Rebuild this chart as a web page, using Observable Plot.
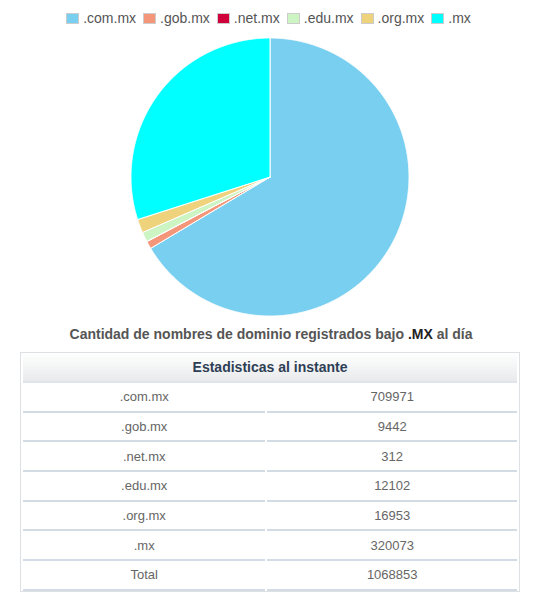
<!DOCTYPE html>
<html>
<head>
<meta charset="utf-8">
<script src="https://cdn.jsdelivr.net/npm/d3@7"></script>
<script src="https://cdn.jsdelivr.net/npm/@observablehq/plot@0.6"></script>
<style>
  body { margin: 0; background: #fff; font-family: "Liberation Sans", Arial, sans-serif; }
  #legend { height: 36px; display: flex; justify-content: center; align-items: center; font-size: 14px; color: #555; padding-left: 2px; }
  #legend .item { display: flex; align-items: center; margin-right: 7px; }
  #legend .sw { width: 11px; height: 9px; border: 1px solid #ccc; margin-right: 4px; }
  #chart { height: 282px; }
  #title { height: 34px; line-height: 32px; text-align: center; font-size: 14px; font-weight: bold; color: #555; }
  #title b { color: #222; }
  table { margin-left: 20px; width: 500px; border: 1px solid #dde1e4; border-spacing: 2px 0; font-size: 13px; color: #666; }
  th { height: 26px; font-size: 14px; font-weight: bold; color: #2e3f55; background: linear-gradient(#ffffff, #e9eaec); border-bottom: 2px solid #dfe5ea; }
  td { height: 25.7px; padding: 1px; text-align: center; border-bottom: 2px solid #d3dce5; }
</style>
</head>
<body>
<div id="legend"></div>
<div id="chart"></div>
<div id="title">Cantidad de nombres de dominio registrados bajo <b>.MX</b> al día</div>
<table id="tabla"></table>
<script>
// datos del grafico
let dominios = [".com.mx", ".gob.mx", ".net.mx", ".edu.mx", ".org.mx", ".mx"]
let registros = [709971, 9442, 312, 12102, 16953, 320073]
let colores = ["#78cff0", "#f3967a", "#d0003a", "#ccf5c3", "#efd27c", "#00ffff"]
let tituloTabla = "Estadisticas al instante"
let etiquetaTotal = "Total"
let total = 1068853

// leyenda
let legend = d3.select('#legend')
dominios.forEach((d, i) => {
  let item = legend.append('div').attr('class', 'item')
  item.append('div').attr('class', 'sw').style('background', colores[i])
  item.append('span').text(d)
})

// rebanadas del pay como poligonos en coordenadas [-1, 1]
let arcos = d3.pie().sort(null).value(d => d.valor)(
  dominios.map((d, i) => ({dominio: d, valor: registros[i]}))
)
let puntos = []
arcos.forEach(a => {
  let n = Math.max(2, Math.ceil((a.endAngle - a.startAngle) / 0.005))
  puntos.push({dominio: a.data.dominio, x: 0, y: 0})
  for (let k = 0; k <= n; k++) {
    let t = a.startAngle + (a.endAngle - a.startAngle) * k / n
    puntos.push({dominio: a.data.dominio, x: Math.sin(t), y: Math.cos(t)})
  }
  puntos.push({dominio: a.data.dominio, x: 0, y: 0})
})

let chart = Plot.plot({
  width: 542,
  height: 282,
  marginLeft: 130.5,
  marginRight: 133.5,
  marginTop: 1.5,
  marginBottom: 2.5,
  x: {domain: [-1, 1], axis: null},
  y: {domain: [-1, 1], axis: null},
  color: {domain: dominios, range: colores},
  marks: [
    Plot.line(puntos, {
      x: "x",
      y: "y",
      z: "dominio",
      fill: "dominio",
      stroke: "white",
      strokeWidth: 1,
      strokeLinejoin: "round"
    })
  ]
})
d3.select('#chart').append(() => chart)

// tabla
let tabla = d3.select('#tabla')
tabla.append('tr').append('th').attr('colspan', 2).text(tituloTabla)
dominios.forEach((d, i) => {
  let tr = tabla.append('tr')
  tr.append('td').text(d)
  tr.append('td').text(registros[i])
})
let tr = tabla.append('tr')
tr.append('td').text(etiquetaTotal)
tr.append('td').text(total)
</script>
</body>
</html>
